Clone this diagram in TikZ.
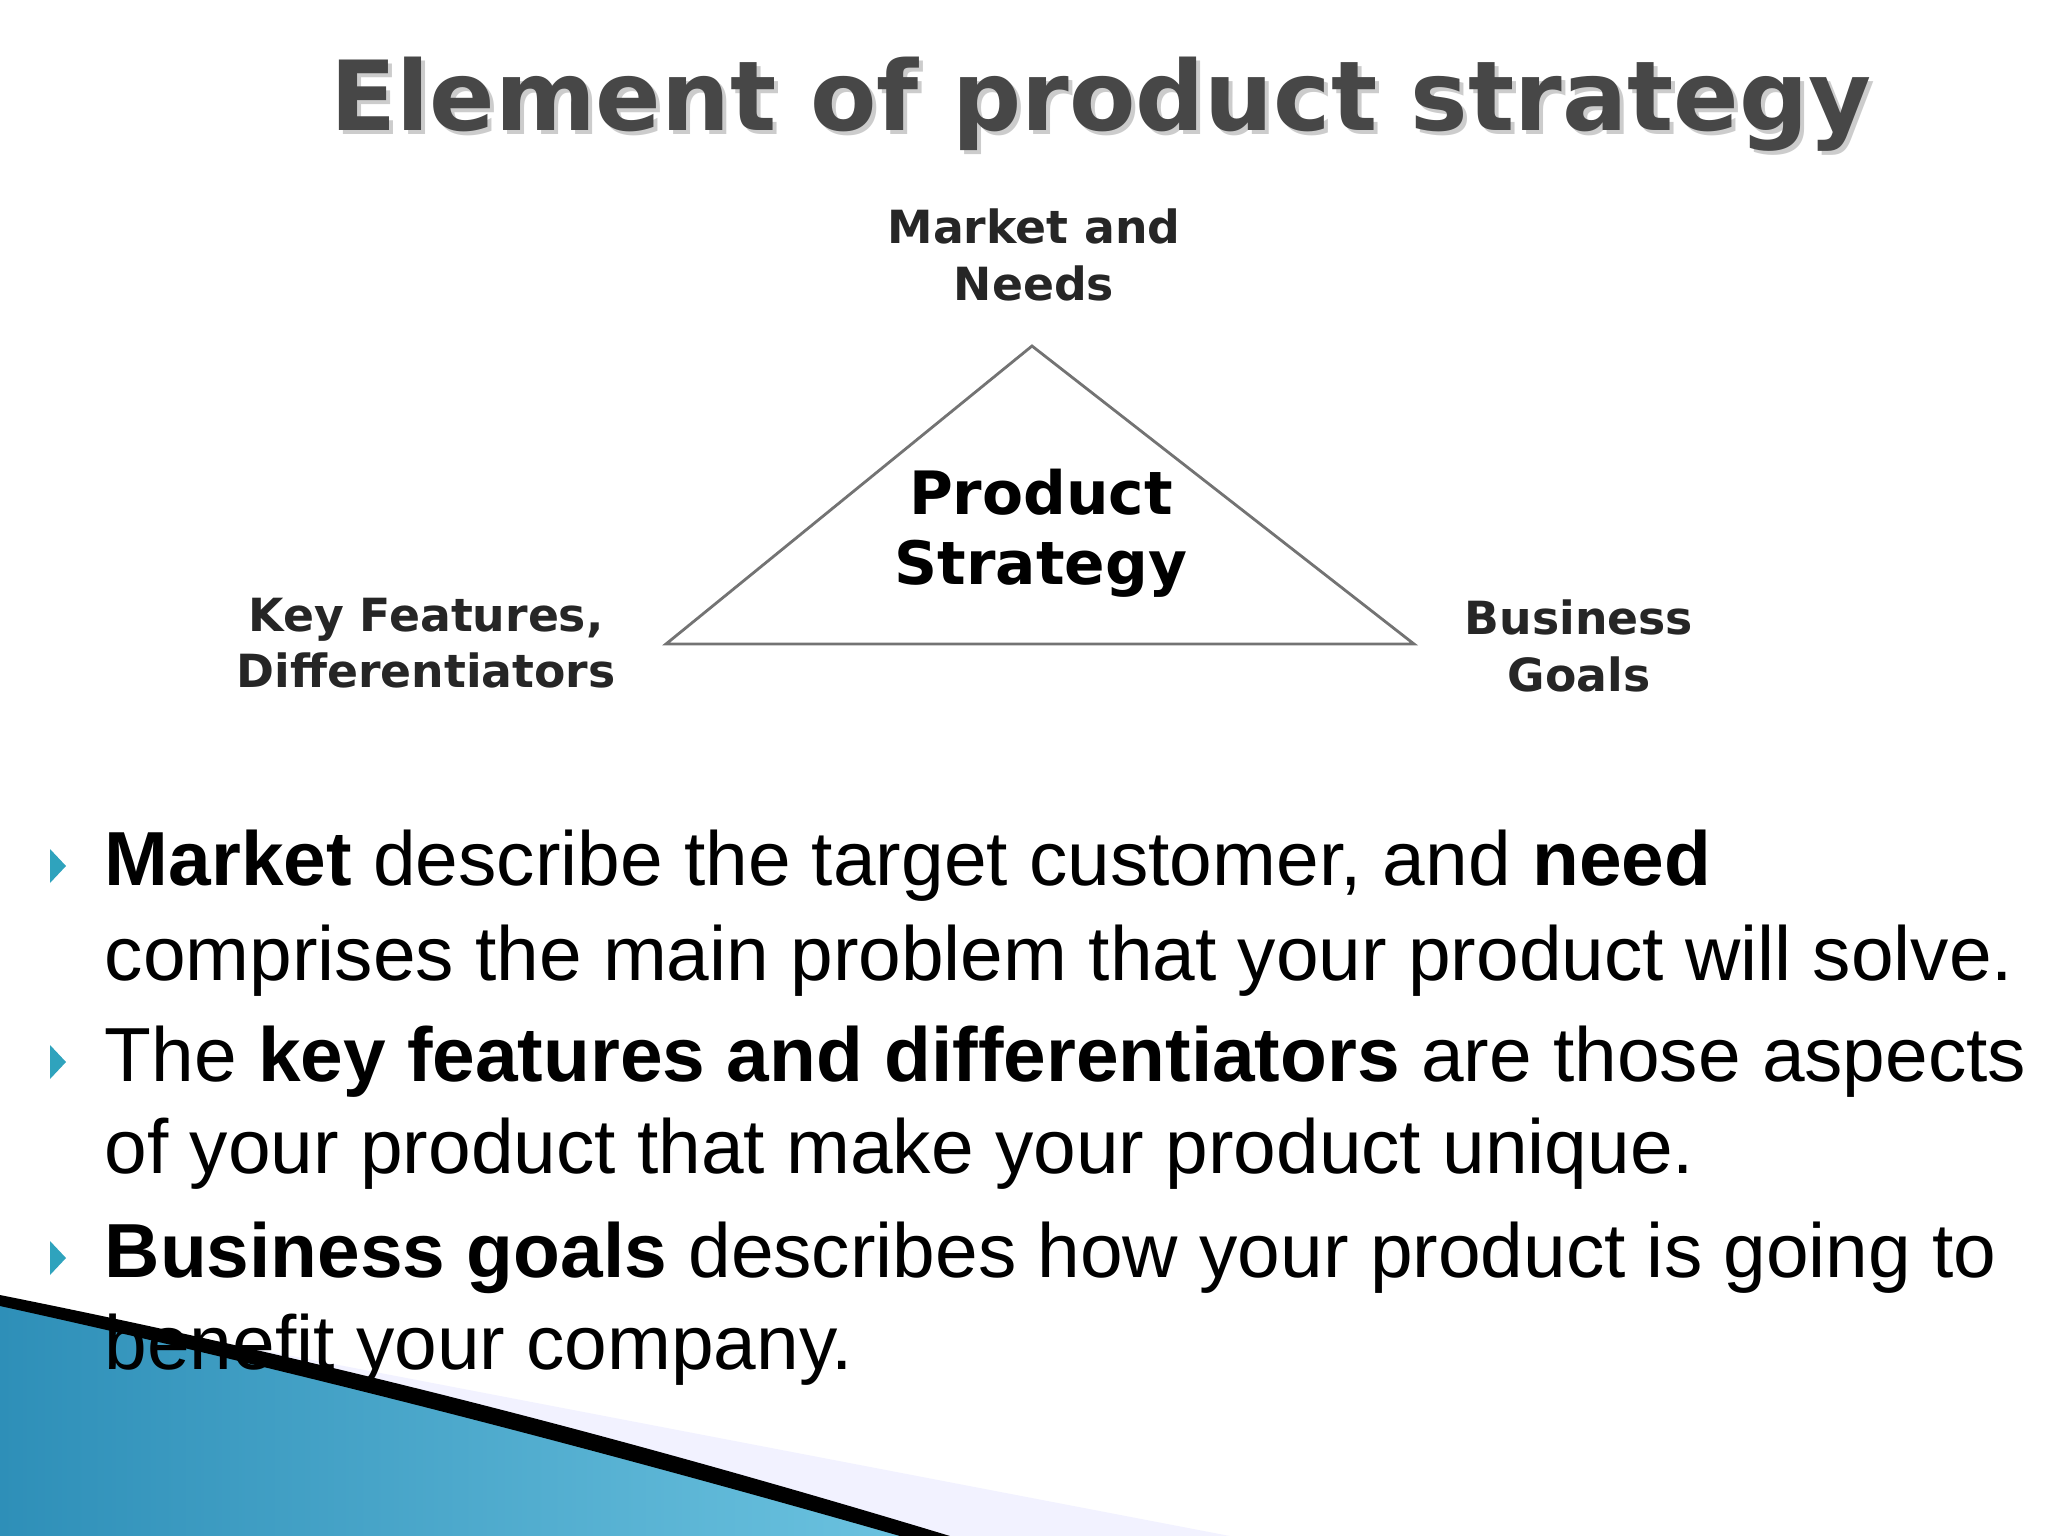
\documentclass[tikz,border=0pt]{standalone}
\usepackage{fontspec}
\setmainfont{Liberation Sans}
\newfontfamily\tfont{DejaVu Sans}
\definecolor{teal1}{HTML}{2FA3BD}
\definecolor{blue1}{HTML}{2E8FB8}
\definecolor{blue2}{HTML}{6CC3E0}
\tikzset{lbl/.style={font=\tfont\bfseries\fontsize{13}{16}\selectfont, align=center, text=black!85},
 bul/.style={fill=teal1, draw=none},
 body/.style={anchor=base west, font=\fontsize{21.8}{26}\selectfont, inner sep=0}}
\begin{document}
\begin{tikzpicture}[x=0.01cm,y=-0.01cm]
\useasboundingbox (0,0) rectangle (2048,1536);
% decoration
\fill[blue!5] (0,1300) -- (1230,1536) -- (0,1536) -- cycle;
\shade[left color=blue1, right color=blue2] (0,1300) .. controls (300,1365) and (600,1445) .. (920,1536) -- (0,1536) -- cycle;
\fill[black] (0,1295) .. controls (300,1355) and (600,1430) .. (950,1536) -- (900,1536) .. controls (600,1450) and (300,1372) .. (0,1306) -- cycle;
% title
\node[font=\tfont\bfseries\fontsize{27.5}{32}\selectfont, text=black!20] at (1105,108) {Element of product strategy};
\node[font=\tfont\bfseries\fontsize{27.5}{32}\selectfont, text=black!72] (title) at (1101,104) {Element of product strategy};
% triangle
\coordinate (A) at (1032,346); \coordinate (L) at (666,644); \coordinate (R) at (1414,644);
\draw[black!55, line width=0.8pt] (A) -- (L) -- (R) -- cycle;
\node[lbl] (mn) at (1034,255) {Market and\\Needs};
\node[font=\tfont\bfseries\fontsize{17}{20}\selectfont, align=center, text=black] (ps) at (1041,533) {Product\\Strategy};
\node[lbl] (kf) at (426,643) {Key Features,\\Differentiators};
\node[lbl] (bg) at (1579,646) {Business\\Goals};
% bullets
\foreach \y/\n in {866/b1,1062/b2,1258/b3} \fill[bul] (50,\y-17) -- (66,\y) -- (50,\y+17) -- cycle;
\node[body] (t1) at (104,885) {\textbf{Market} describe the target customer, and \textbf{need}};
\node[body] (t2) at (104,980) {comprises the main problem that your product will solve.};
\node[body] (t3) at (104,1081) {The \textbf{key features and differentiators} are those aspects};
\node[body] (t4) at (104,1173) {of your product that make your product unique.};
\node[body] (t5) at (104,1277) {\textbf{Business goals} describes how your product is going to};
\node[body] (t6) at (104,1369) {benefit your company.};
\end{tikzpicture}
\end{document}
